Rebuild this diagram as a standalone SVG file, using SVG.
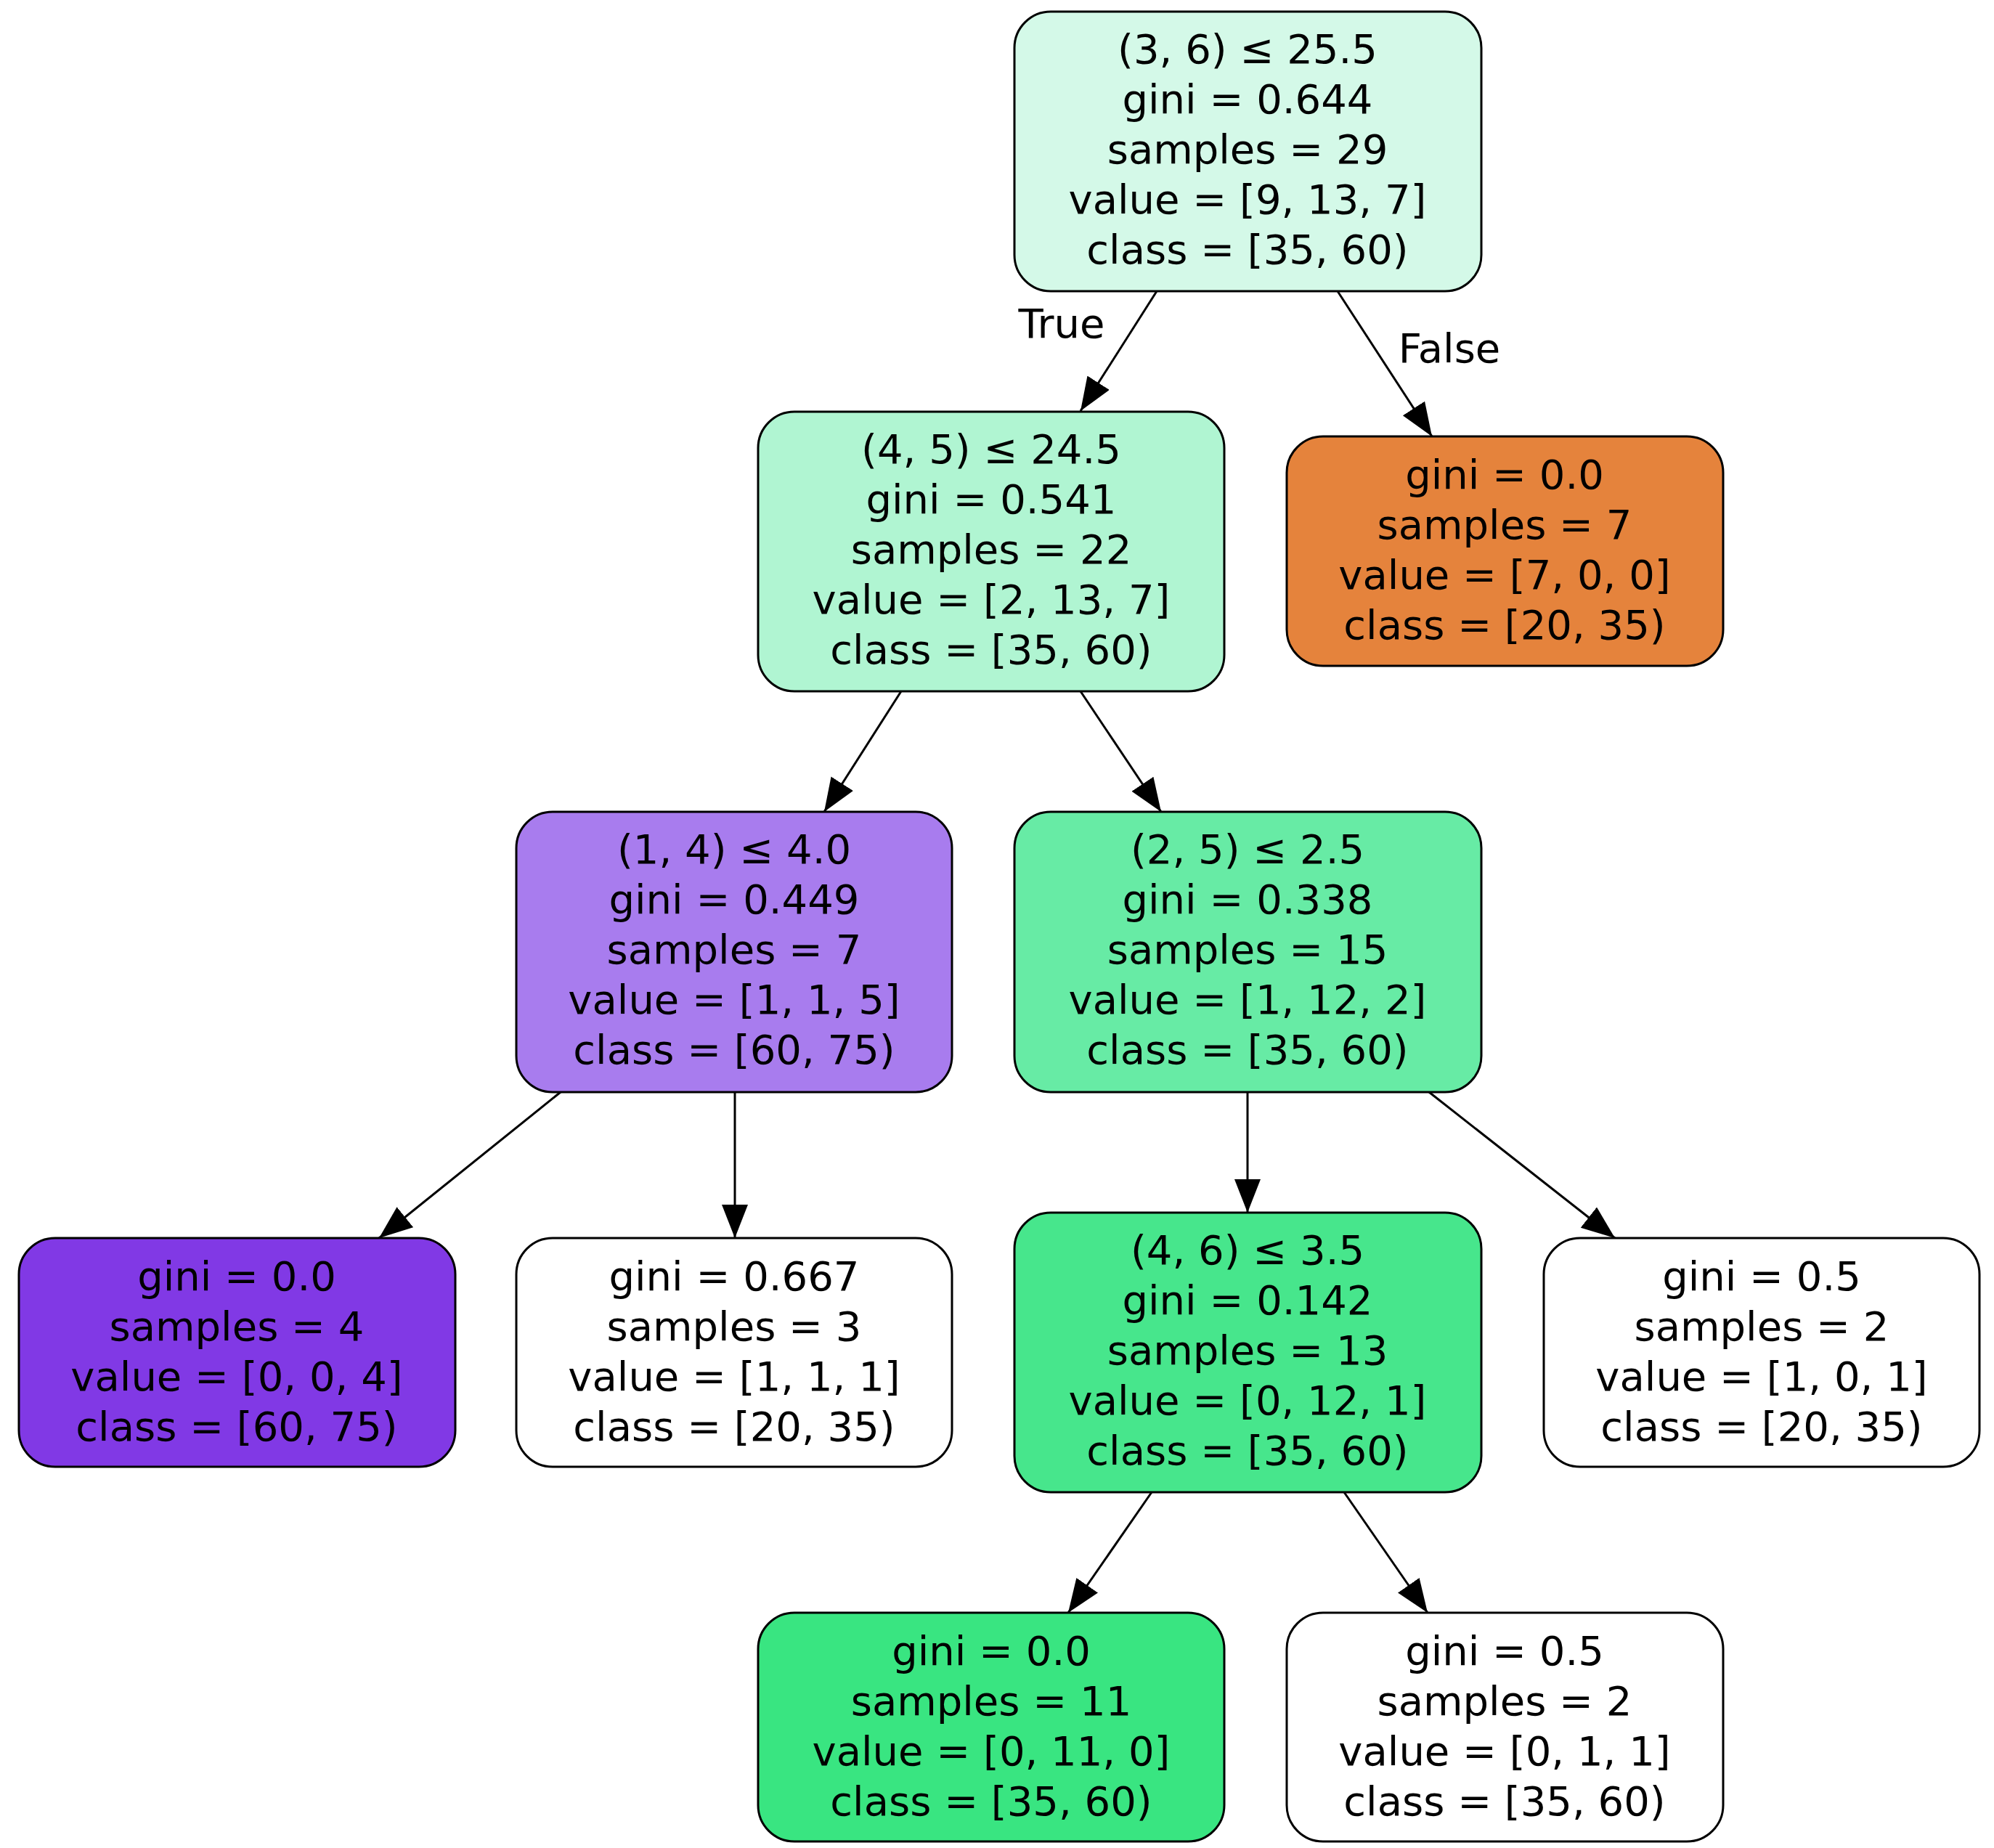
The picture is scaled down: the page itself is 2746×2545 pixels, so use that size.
<svg xmlns="http://www.w3.org/2000/svg" width="2746" height="2545" viewBox="0 0 2746 2545">
<style>
rect{stroke:#000;stroke-width:3}
text{font-family:"DejaVu Sans",sans-serif;font-size:56px;text-anchor:middle;fill:#000}
.e line{stroke:#000;stroke-width:3;marker-end:url(#a)}
</style>
<defs><marker id="a" markerUnits="userSpaceOnUse" markerWidth="50" markerHeight="40" refX="46" refY="18" orient="auto"><path d="M0,0 L46,18 L0,36 Z" fill="#000"/></marker></defs>
<rect width="2746" height="2545" fill="#fff" style="stroke:none"/>
<g class="e" id="edges">
<line x1="1593" y1="401" x2="1488" y2="566"/>
<line x1="1842" y1="401" x2="1972" y2="601"/>
<line x1="1241" y1="952" x2="1135" y2="1118"/>
<line x1="1488" y1="952" x2="1599" y2="1118"/>
<line x1="772" y1="1504" x2="522" y2="1705"/>
<line x1="1012" y1="1504" x2="1012" y2="1705"/>
<line x1="1718" y1="1504" x2="1718" y2="1670"/>
<line x1="1968" y1="1504" x2="2224" y2="1705"/>
<line x1="1586" y1="2055" x2="1471" y2="2221"/>
<line x1="1851" y1="2055" x2="1966" y2="2221"/>
<text x="1462" y="465">True</text>
<text x="1996" y="499">False</text>
</g>
<g id="n0"><rect x="1397" y="16" width="643" height="385" rx="50" fill="#d4f9e8"/>
<text x="1718" y="87">(3, 6) ≤ 25.5</text><text x="1718" y="156">gini = 0.644</text><text x="1718" y="225">samples = 29</text><text x="1718" y="294">value = [9, 13, 7]</text><text x="1718" y="363">class = [35, 60)</text></g>
<g id="n1"><rect x="1044" y="567" width="642" height="385" rx="50" fill="#b0f5d2"/>
<text x="1365" y="638">(4, 5) ≤ 24.5</text><text x="1365" y="707">gini = 0.541</text><text x="1365" y="776">samples = 22</text><text x="1365" y="845">value = [2, 13, 7]</text><text x="1365" y="914">class = [35, 60)</text></g>
<g id="n2"><rect x="1772" y="601" width="601" height="316" rx="50" fill="#e5833c"/>
<text x="2072" y="673">gini = 0.0</text><text x="2072" y="742">samples = 7</text><text x="2072" y="811">value = [7, 0, 0]</text><text x="2072" y="880">class = [20, 35)</text></g>
<g id="n3"><rect x="711" y="1118" width="600" height="386" rx="50" fill="#a87cee"/>
<text x="1011" y="1189">(1, 4) ≤ 4.0</text><text x="1011" y="1258">gini = 0.449</text><text x="1011" y="1327">samples = 7</text><text x="1011" y="1396">value = [1, 1, 5]</text><text x="1011" y="1465">class = [60, 75)</text></g>
<g id="n4"><rect x="1397" y="1118" width="643" height="386" rx="50" fill="#67eba5"/>
<text x="1718" y="1189">(2, 5) ≤ 2.5</text><text x="1718" y="1258">gini = 0.338</text><text x="1718" y="1327">samples = 15</text><text x="1718" y="1396">value = [1, 12, 2]</text><text x="1718" y="1465">class = [35, 60)</text></g>
<g id="n5"><rect x="26" y="1705" width="601" height="315" rx="50" fill="#8139e5"/>
<text x="326" y="1777">gini = 0.0</text><text x="326" y="1846">samples = 4</text><text x="326" y="1915">value = [0, 0, 4]</text><text x="326" y="1984">class = [60, 75)</text></g>
<g id="n6"><rect x="711" y="1705" width="600" height="315" rx="50" fill="#fff"/>
<text x="1011" y="1777">gini = 0.667</text><text x="1011" y="1846">samples = 3</text><text x="1011" y="1915">value = [1, 1, 1]</text><text x="1011" y="1984">class = [20, 35)</text></g>
<g id="n7"><rect x="1397" y="1670" width="643" height="385" rx="50" fill="#47e68c"/>
<text x="1718" y="1741">(4, 6) ≤ 3.5</text><text x="1718" y="1810">gini = 0.142</text><text x="1718" y="1879">samples = 13</text><text x="1718" y="1948">value = [0, 12, 1]</text><text x="1718" y="2017">class = [35, 60)</text></g>
<g id="n8"><rect x="2126" y="1705" width="600" height="315" rx="50" fill="#fff"/>
<text x="2426" y="1777">gini = 0.5</text><text x="2426" y="1846">samples = 2</text><text x="2426" y="1915">value = [1, 0, 1]</text><text x="2426" y="1984">class = [20, 35)</text></g>
<g id="n9"><rect x="1044" y="2221" width="642" height="315" rx="50" fill="#39e581"/>
<text x="1365" y="2293">gini = 0.0</text><text x="1365" y="2362">samples = 11</text><text x="1365" y="2431">value = [0, 11, 0]</text><text x="1365" y="2500">class = [35, 60)</text></g>
<g id="n10"><rect x="1772" y="2221" width="601" height="315" rx="50" fill="#fff"/>
<text x="2072" y="2293">gini = 0.5</text><text x="2072" y="2362">samples = 2</text><text x="2072" y="2431">value = [0, 1, 1]</text><text x="2072" y="2500">class = [35, 60)</text></g>
</svg>
